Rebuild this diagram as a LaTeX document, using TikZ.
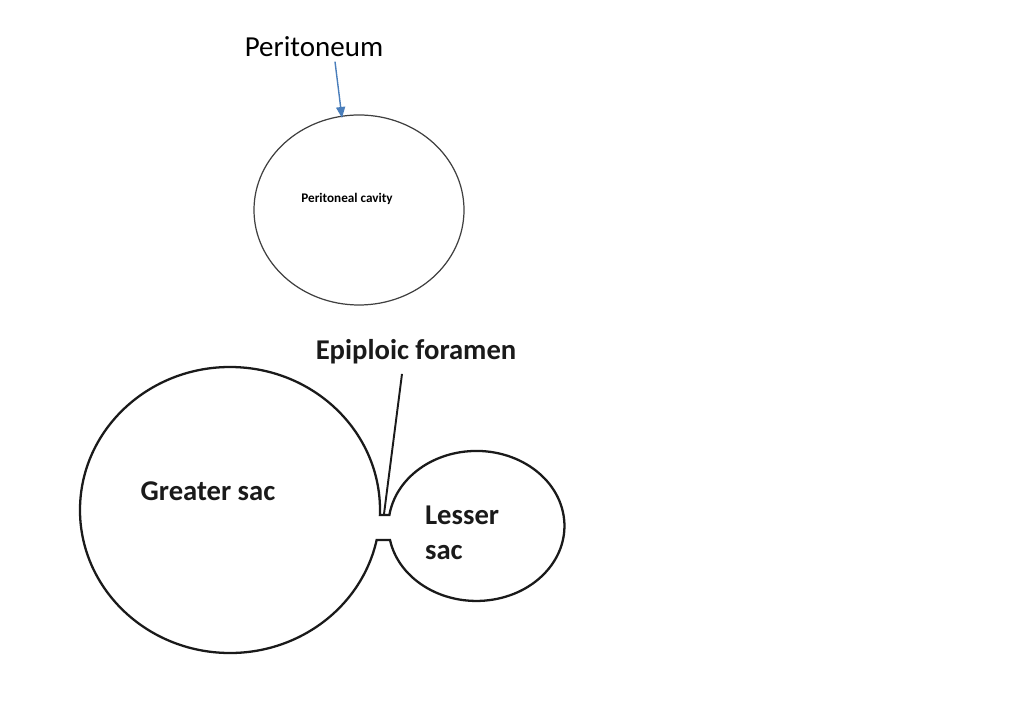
\documentclass[tikz,border=0pt]{standalone}
\usepackage{fontspec}
\setmainfont{Carlito}
\usepackage{xcolor}
\usepackage{tikz}
\usetikzlibrary{arrows.meta,positioning}
\definecolor{linec}{HTML}{1A1A1A}
\definecolor{rimc}{HTML}{404040}
\definecolor{arrc}{HTML}{4A7EBB}
\tikzset{
  ar/.style={-{Triangle[length=2.2mm,width=1.8mm]},line width=0.8pt,arrc},
  ptr/.style={line width=1.1pt,linec},
  sac/.style={line width=1.3pt,linec},
  lbl/.style={font=\fontsize{16.5}{20}\selectfont,text=black,inner sep=1pt},
  blbl/.style={font=\fontsize{16.3}{20}\selectfont\bfseries,text=linec,inner sep=1pt,align=left}
}
\begin{document}
\begin{tikzpicture}
\useasboundingbox (0,0) rectangle (20.62,14.06);
% single cavity
\draw[rimc,line width=0.7pt] (7.18,9.86) ellipse[x radius=2.10,y radius=1.90];
\node[font=\fontsize{7.5}{9}\selectfont\bfseries] (cav) at (6.94,10.08) {Peritoneal cavity};
\node[lbl] (perit) at (6.28,13.12) {Peritoneum};
\coordinate (rim) at (6.84,11.70);
\draw[ar] (perit.south) ++(0.42,-0.05) coordinate (pstart) (pstart) -- (rim);
% greater and lesser sac
\draw[sac] (7.598,3.76) arc[start angle=-2,end angle=347.9,x radius=3.0,y radius=2.86]
  -- (7.80,3.26) arc[start angle=190.8,end angle=531.6,x radius=1.76,y radius=1.5] -- cycle;
\node[blbl] (gsac) at (4.16,4.24) {Greater sac};
\node[blbl,anchor=west] (lsac) at (8.46,3.41) {Lesser\\sac};
\node[blbl] (epi) at (8.32,7.02) {Epiploic foramen};
\coordinate (gap) at (7.68,3.78);
\draw[ptr] (epi.south) ++(-0.28,-0.15) coordinate (estart) (estart) -- (gap);
\end{tikzpicture}
\end{document}
